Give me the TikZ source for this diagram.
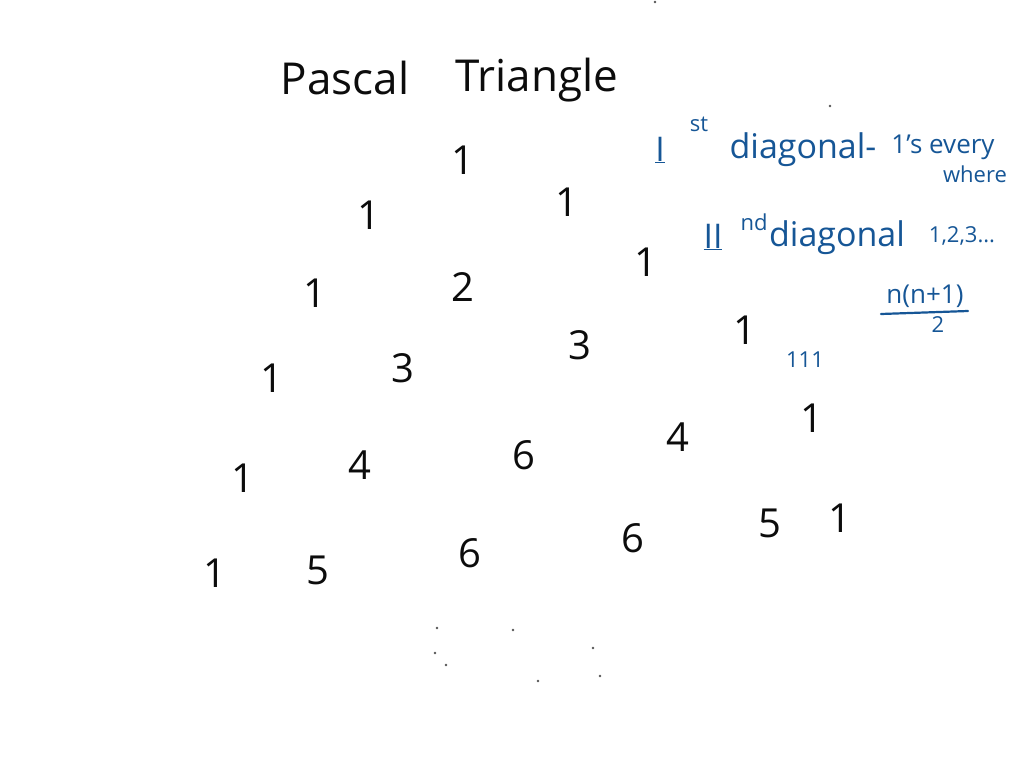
\documentclass[tikz,border=0pt]{standalone}
\usepackage{fontspec}
\setmainfont{Open Sans}
\definecolor{ink}{RGB}{12,12,12}
\definecolor{pen}{RGB}{22,86,150}
\begin{document}
\begin{tikzpicture}[x=1pt,y=-1pt,
  num/.style={inner sep=0pt, text=ink, font=\fontsize{40}{40}\selectfont},
  ttl/.style={inner sep=0pt, text=ink, font=\fontsize{44}{44}\selectfont},
  note/.style={inner sep=0pt, text=pen, font=\fontsize{34}{34}\selectfont},
  smallnote/.style={inner sep=0pt, text=pen, font=\fontsize{22}{22}\selectfont},
  speck/.style={fill=#1, draw=none},
  speck/.default=ink]
\useasboundingbox (0,0) rectangle (1024,768);
% title
\node[ttl] (p) at (345,78) {Pascal};
\node[ttl] (t) at (537,80) {Triangle};
% triangle rows
\node[num] (r1a) at (463,160) {1};
\node[num] (r2a) at (369,215) {1};
\node[num] (r2b) at (567,202) {1};
\node[num] (r3a) at (315,293) {1};
\node[num] (r3b) at (463,287) {2};
\node[num] (r3c) at (646,262) {1};
\node[num] (r4a) at (272,378) {1};
\node[num] (r4b) at (403,368) {3};
\node[num] (r4c) at (580,345) {3};
\node[num] (r4d) at (745,330) {1};
\node[num] (r5a) at (243,478) {1};
\node[num] (r5b) at (360,465) {4};
\node[num] (r5c) at (524,455) {6};
\node[num] (r5d) at (678,437) {4};
\node[num] (r5e) at (812,418) {1};
\node[num] (r6a) at (215,573) {1};
\node[num] (r6b) at (318,570) {5};
\node[num] (r6c) at (470,553) {6};
\node[num] (r6d) at (633,538) {6};
\node[num] (r6e) at (770,523) {5};
\node[num] (r6f) at (840,518) {1};
% blue notes
\node[note] (i1) at (660,150) {\underline{I}};
\node[smallnote] (st) at (699,124) {st};
\node[note] (d1) at (803,150) {diagonal-};
\node[smallnote, font=\fontsize{26}{26}\selectfont] (ev) at (943,147) {1's every};
\node[smallnote] (wh) at (975,174) {where};
\node[note] (i2) at (713,237) {\underline{II}};
\node[smallnote] (nd) at (754,222) {nd};
\node[note] (d2) at (837,238) {diagonal};
\node[smallnote] (seq) at (962,236) {1,2,3...};
\node[smallnote, font=\fontsize{26}{26}\selectfont] (num) at (925,296) {n(n+1)};
\node[smallnote] (den) at (938,325) {2};
\draw[pen, line width=2.2pt, line cap=round] (881,314) -- (968,311);
\node[smallnote] (ones) at (805,360) {111};
% stray specks
\foreach \x/\y in {437/628, 513/630, 435/653, 446/665, 593/648, 538/681, 600/676, 655/2, 830/106}
  \fill[ink!70] (\x,\y) circle (1.4);
\end{tikzpicture}
\end{document}
